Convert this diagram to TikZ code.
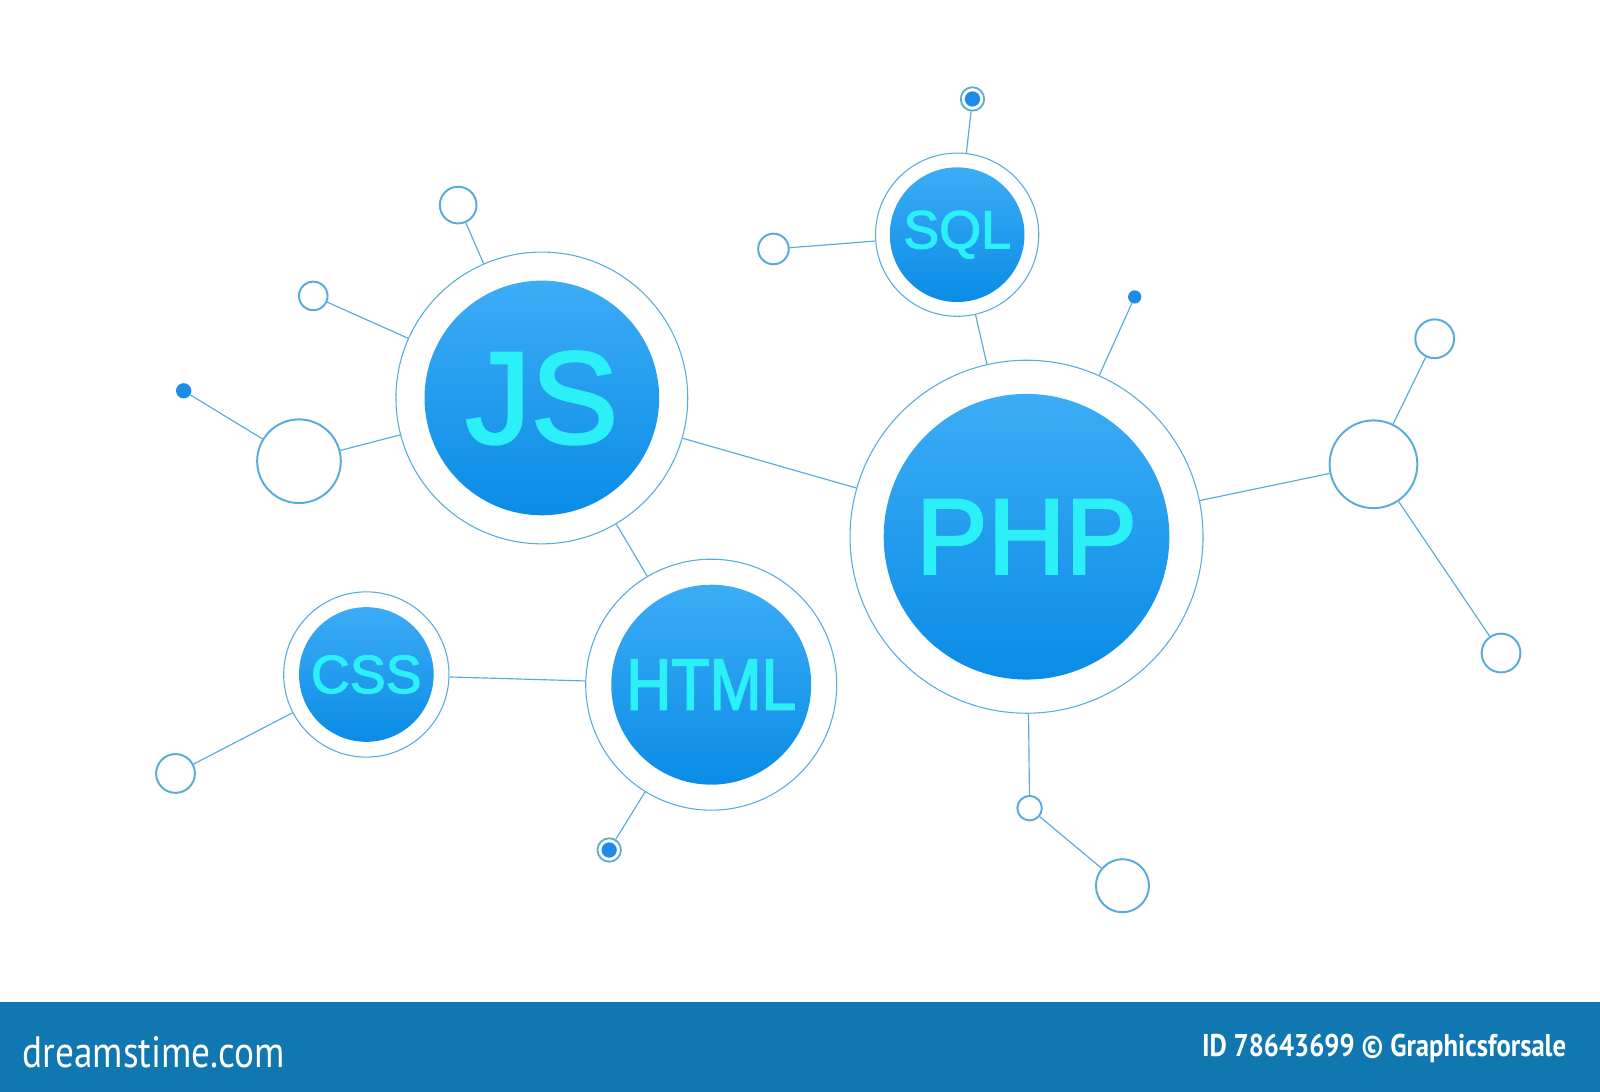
\documentclass[tikz,border=0pt]{standalone}
\usepackage{fontspec}
\newfontfamily\tagfont[FakeBold=2.2]{Liberation Sans}
\newfontfamily\tagnarrow[FakeStretch=0.86,FakeBold=2.2]{Liberation Sans}
\newfontfamily\barfont[FakeStretch=0.85]{PT Sans}
\definecolor{ringblue}{RGB}{88,172,220}
\definecolor{balltop}{RGB}{60,172,246}
\definecolor{ballbot}{RGB}{10,140,230}
\definecolor{labelcyan}{RGB}{44,240,247}
\definecolor{dotblue}{RGB}{28,140,232}
\definecolor{barblue}{RGB}{16,119,176}
\tikzset{
  ring/.style={circle, draw=ringblue, line width=0.6pt, inner sep=0pt, minimum size=#1},
  bubble/.style={circle, draw=ringblue, line width=1.1pt, fill=white, inner sep=0pt, minimum size=#1},
  ball/.style={circle, inner sep=0pt, minimum size=#1, top color=balltop, bottom color=ballbot, text=labelcyan},
  dot/.style={circle, fill=dotblue, inner sep=0pt, minimum size=#1},
  link/.style={draw=ringblue, line width=0.65pt}
}
\begin{document}
\begin{tikzpicture}[x=0.02cm, y=-0.02cm]
    \useasboundingbox (0,0) rectangle (1568,1070);
    % big rings
    \node[ring=5.72cm] (js) at (531,390) {};
    \node[ring=6.92cm] (php) at (1006,526) {};
    \node[ring=3.2cm] (sql) at (938,230) {};
    \node[ring=4.92cm] (html) at (697,671) {};
    \node[ring=3.24cm] (css) at (359,661) {};
    % filled circles with labels
    \node[ball=4.6cm, font=\tagfont\fontsize{73}{73}\selectfont] (jsin) at (js) {JS};
    \node[ball=5.6cm, font=\tagfont\fontsize{60}{60}\selectfont] (phpin) at (php) {PHP};
    \node[ball=2.64cm, font=\tagfont\fontsize{30}{30}\selectfont] (sqlin) at (sql) {SQL};
    \node[ball=3.92cm, font=\tagnarrow\fontsize{40.5}{40.5}\selectfont] (htmlin) at (html) {HTML};
    \node[ball=2.64cm, font=\tagfont\fontsize{30}{30}\selectfont] (cssin) at (css) {CSS};
    % small circles
    \node[bubble=0.72cm] (ja) at (449,201) {};
    \node[bubble=0.56cm] (jb) at (307,290) {};
    \node[bubble=1.64cm] (jc) at (293,452) {};
    \node[bubble=0.6cm] (sa) at (758,244) {};
    \node[bubble=1.72cm] (pa) at (1346,455) {};
    \node[bubble=0.76cm] (pb) at (1406,332) {};
    \node[bubble=0.76cm] (pc) at (1471,640) {};
    \node[bubble=0.48cm] (pd) at (1009,792) {};
    \node[bubble=1.04cm] (pe) at (1100,868) {};
    \node[bubble=0.76cm] (ca) at (172,758) {};
    % dots
    \node[dot=0.3cm] (jd) at (180,383) {};
    \node[dot=0.26cm] (pf) at (1112,291) {};
    \node[ring=0.46cm, line width=1pt] (sb) at (953,97) {};
    \node[dot=0.3cm] (sbin) at (sb) {};
    \node[ring=0.46cm, line width=1pt] (ha) at (597,833) {};
    \node[dot=0.3cm] (hain) at (ha) {};
    % links
    \path[link] (js) -- (php);
    \path[link] (js) -- (html);
    \path[link] (js) -- (ja);
    \path[link] (js) -- (jb);
    \path[link] (js) -- (jc);
    \path[link] (jc) -- (jd);
    \path[link] (sql) -- (sa);
    \path[link] (sql) -- (sb);
    \path[link] (sql) -- (php);
    \path[link] (php) -- (pf);
    \path[link] (php) -- (pa);
    \path[link] (pa) -- (pb);
    \path[link] (pa) -- (pc);
    \path[link] (php) -- (pd);
    \path[link] (pd) -- (pe);
    \path[link] (css) -- (html);
    \path[link] (css) -- (ca);
    \path[link] (html) -- (ha);
    % footer bar
    \fill[barblue] (0,982) rectangle (1568,1070);
    \node[anchor=west, text=white, font=\barfont\fontsize{24.5}{24.5}\selectfont] (site) at (16,1031) {dreamstime.com};
    \node[anchor=east, text=white, font=\barfont\bfseries\fontsize{17.5}{17.5}\selectfont] (credit) at (1541,1027) {ID 78643699 © Graphicsforsale};
\end{tikzpicture}
\end{document}
